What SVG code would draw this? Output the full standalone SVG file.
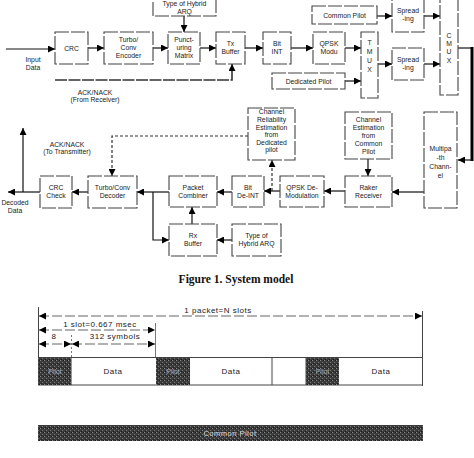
<svg xmlns="http://www.w3.org/2000/svg" width="474" height="458" viewBox="0 0 474 458">
<style>
.b{fill:#fff;stroke:#444;stroke-width:1.1;stroke-dasharray:14 2}
.t{font-family:"Liberation Sans",Arial,sans-serif;font-size:6.8px;fill:#222;text-anchor:middle}
.l{fill:none;stroke:#111;stroke-width:1.2}
.d{fill:none;stroke:#333;stroke-width:1.2;stroke-dasharray:3 2}
.g{fill:none;stroke:#666;stroke-width:1.2;stroke-dasharray:10 3}
.tt{font-family:"Liberation Sans",Arial,sans-serif;font-size:8px;fill:#222;text-anchor:middle;letter-spacing:0.5px}
.pl{font-family:"Liberation Sans",Arial,sans-serif;font-size:7px;fill:#aaa;text-anchor:middle}
</style>
<defs>
<marker id="ah" viewBox="0 0 10 10" refX="10" refY="5" markerWidth="9" markerHeight="7" markerUnits="userSpaceOnUse" orient="auto-start-reverse">
<path d="M0,0L10,5L0,10z" fill="#000"/>
</marker>
<pattern id="nz" width="4" height="4" patternUnits="userSpaceOnUse">
<rect width="4" height="4" fill="#3c3c3c"/>
<rect x="0" y="0" width="1" height="1" fill="#8a8a8a"/>
<rect x="2" y="2" width="1" height="1" fill="#777"/>
<rect x="3" y="0" width="1" height="1" fill="#1a1a1a"/>
<rect x="1" y="3" width="1" height="1" fill="#1a1a1a"/>
</pattern>
</defs>
<rect width="474" height="458" fill="#fff"/>

<g id="connectors">
<line class="l" x1="6" y1="49" x2="55" y2="49" marker-end="url(#ah)"/>
<line class="l" x1="88" y1="48" x2="104" y2="48" marker-end="url(#ah)"/>
<line class="l" x1="153" y1="48" x2="168" y2="48" marker-end="url(#ah)"/>
<line class="l" x1="184" y1="16" x2="184" y2="32" marker-end="url(#ah)"/>
<line class="l" x1="200" y1="48" x2="216" y2="48" marker-end="url(#ah)"/>
<line class="l" x1="245" y1="48" x2="263" y2="48" marker-end="url(#ah)"/>
<line class="l" x1="291" y1="48" x2="313" y2="48" marker-end="url(#ah)"/>
<line class="l" x1="345" y1="48" x2="361" y2="48" marker-end="url(#ah)"/>
<line class="l" x1="345" y1="81" x2="361" y2="81" marker-end="url(#ah)"/>
<line class="l" x1="377" y1="16" x2="392" y2="16" marker-end="url(#ah)"/>
<line class="l" x1="378" y1="64" x2="392" y2="64" marker-end="url(#ah)"/>
<line class="l" x1="424" y1="16" x2="440" y2="16" marker-end="url(#ah)"/>
<line class="l" x1="424" y1="64" x2="440" y2="64" marker-end="url(#ah)"/>
<polyline fill="none" stroke="#333" stroke-width="1.6" stroke-dasharray="12 1.5" points="55,80 232,80 232,64" marker-end="url(#ah)"/>
<polyline class="l" points="458,48 472,48"/>
<line x1="472" y1="47" x2="472" y2="161" stroke="#000" stroke-width="3"/>
<line class="l" x1="472" y1="160" x2="458" y2="160" marker-end="url(#ah)"/>
<line class="l" x1="424" y1="192" x2="392" y2="192" marker-end="url(#ah)"/>
<line class="l" x1="368" y1="159" x2="368" y2="176" marker-end="url(#ah)"/>
<line class="l" x1="345" y1="191" x2="324" y2="191" marker-end="url(#ah)"/>
<line class="l" x1="280" y1="191" x2="264" y2="191" marker-end="url(#ah)"/>
<line class="d" x1="272" y1="191" x2="272" y2="160" marker-end="url(#ah)"/>
<polyline class="d" points="248,136 112,136 112,176" marker-end="url(#ah)"/>
<line class="l" x1="232" y1="192" x2="217" y2="192" marker-end="url(#ah)"/>
<line class="l" x1="169" y1="192" x2="137" y2="192" marker-end="url(#ah)"/>
<polyline class="l" points="153,192 153,240 169,240" marker-end="url(#ah)"/>
<line class="l" x1="192" y1="224" x2="192" y2="207" marker-end="url(#ah)"/>
<line class="l" x1="232" y1="240" x2="217" y2="240" marker-end="url(#ah)"/>
<line class="l" x1="88" y1="192" x2="72" y2="192" marker-end="url(#ah)"/>
<line class="l" x1="40" y1="192" x2="8" y2="192" marker-end="url(#ah)"/>
<line class="l" x1="23" y1="192" x2="23" y2="128" marker-end="url(#ah)"/>
</g>

<g id="crc"><rect class="b" x="55" y="32" width="33" height="32"/><text class="t" x="71.5" y="51">CRC</text></g>
<g id="turbo-enc"><rect class="b" x="104" y="32" width="49" height="32"/><text class="t" x="128.5" y="42">Turbo/</text><text class="t" x="128.5" y="50">Conv</text><text class="t" x="128.5" y="58">Encoder</text></g>
<g id="punct"><rect class="b" x="168" y="32" width="32" height="32"/><text class="t" x="184" y="42">Punct-</text><text class="t" x="184" y="50">uring</text><text class="t" x="184" y="58">Matrix</text></g>
<g id="harq-top"><rect class="b" x="153" y="-2" width="63" height="18"/><text class="t" x="184.5" y="6">Type of Hybrid</text><text class="t" x="184.5" y="14">ARQ</text></g>
<g id="txbuf"><rect class="b" x="216" y="32" width="29" height="32"/><text class="t" x="230.5" y="46">Tx</text><text class="t" x="230.5" y="54">Buffer</text></g>
<g id="bitint"><rect class="b" x="263" y="32" width="28" height="32"/><text class="t" x="277" y="46">Bit</text><text class="t" x="277" y="54">INT</text></g>
<g id="qpskmod"><rect class="b" x="313" y="32" width="32" height="32"/><text class="t" x="329" y="46">QPSK</text><text class="t" x="329" y="54">Modu</text></g>
<g id="tmux"><rect class="b" x="361" y="32" width="17" height="66"/><text class="t" x="369.5" y="45">T</text><text class="t" x="369.5" y="54">M</text><text class="t" x="369.5" y="63">U</text><text class="t" x="369.5" y="72">X</text></g>
<g id="commonpilot"><rect class="b" x="312" y="6" width="65" height="18"/><text class="t" x="344.5" y="18">Common Pilot</text></g>
<g id="dedpilot"><rect class="b" x="272" y="73" width="73" height="16"/><text class="t" x="308.5" y="84">Dedicated Pilot</text></g>
<g id="spread1"><rect class="b" x="392" y="-1" width="32" height="33"/><text class="t" x="408" y="13">Spread</text><text class="t" x="408" y="21">-ing</text></g>
<g id="spread2"><rect class="b" x="392" y="48" width="32" height="32"/><text class="t" x="408" y="62">Spread</text><text class="t" x="408" y="70">-ing</text></g>
<g id="cmux"><rect class="b" x="440" y="-1" width="18" height="96"/><text class="t" x="449" y="38">C</text><text class="t" x="449" y="46">M</text><text class="t" x="449" y="54">U</text><text class="t" x="449" y="63">X</text></g>
<g id="input-label"><text class="t" x="33" y="62">Input</text><text class="t" x="33" y="70">Data</text></g>
<g id="ack-from"><text class="t" x="95" y="95">ACK/NACK</text><text class="t" x="95" y="102">(From Receiver)</text></g>

<g id="multipath"><rect class="b" x="424" y="112" width="33" height="96"/><text class="t" x="440.5" y="151">Multipa</text><text class="t" x="440.5" y="160">-th</text><text class="t" x="440.5" y="169">Chann-</text><text class="t" x="440.5" y="178">el</text></g>
<g id="chest"><rect class="b" x="345" y="112" width="47" height="47"/><text class="t" x="368.5" y="122">Channel</text><text class="t" x="368.5" y="130">Estimation</text><text class="t" x="368.5" y="138">from</text><text class="t" x="368.5" y="146">Common</text><text class="t" x="368.5" y="154">Pilot</text></g>
<g id="raker"><rect class="b" x="345" y="176" width="47" height="31"/><text class="t" x="368.5" y="190">Raker</text><text class="t" x="368.5" y="198">Receiver</text></g>
<g id="qpskdemod"><rect class="b" x="280" y="176" width="44" height="31"/><text class="t" x="302" y="190">QPSK De-</text><text class="t" x="302" y="198">Modulation</text></g>
<g id="chrel"><rect class="b" x="248" y="108" width="47" height="52"/><text class="t" x="271.5" y="114">Channel</text><text class="t" x="271.5" y="122">Reliability</text><text class="t" x="271.5" y="129.5">Estimation</text><text class="t" x="271.5" y="137">from</text><text class="t" x="271.5" y="144.5">Dedicated</text><text class="t" x="271.5" y="152">pilot</text></g>
<g id="bitdeint"><rect class="b" x="232" y="176" width="32" height="31"/><text class="t" x="248" y="190">Bit</text><text class="t" x="248" y="198">De-INT</text></g>
<g id="packetcomb"><rect class="b" x="169" y="176" width="48" height="31"/><text class="t" x="193" y="190">Packet</text><text class="t" x="193" y="198">Combiner</text></g>
<g id="turbodec"><rect class="b" x="88" y="176" width="49" height="32"/><text class="t" x="112.5" y="190">Turbo/Conv</text><text class="t" x="112.5" y="198">Decoder</text></g>
<g id="crccheck"><rect class="b" x="40" y="176" width="32" height="32"/><text class="t" x="56" y="190">CRC</text><text class="t" x="56" y="198">Check</text></g>
<g id="rxbuf"><rect class="b" x="169" y="224" width="48" height="32"/><text class="t" x="193" y="238">Rx</text><text class="t" x="193" y="246">Buffer</text></g>
<g id="harq-bot"><rect class="b" x="232" y="224" width="49" height="32"/><text class="t" x="256.5" y="238">Type of</text><text class="t" x="256.5" y="246">Hybrid ARQ</text></g>
<g id="decoded-label"><text class="t" x="15" y="205">Decoded</text><text class="t" x="15" y="213">Data</text></g>
<g id="ack-to"><text class="t" x="67" y="147">ACK/NACK</text><text class="t" x="67" y="154">(To Transmitter)</text></g>

<text x="236" y="283" font-family="Liberation Serif,Times New Roman,serif" font-size="11.5" font-weight="bold" text-anchor="middle" fill="#111">Figure 1. System model</text>

<g id="timing">
<line x1="38.5" y1="307" x2="38.5" y2="357" stroke="#444" stroke-width="1"/>
<line x1="422.5" y1="311" x2="422.5" y2="386" stroke="#444" stroke-width="1"/>
<line x1="71.5" y1="335" x2="71.5" y2="357" stroke="#555" stroke-width="0.8" stroke-dasharray="2 2"/>
<line x1="155.5" y1="323" x2="155.5" y2="357" stroke="#555" stroke-width="0.8"/>
<text class="tt" x="218" y="313">1 packet=N slots</text>
<line class="g" x1="39" y1="316" x2="422" y2="316" marker-start="url(#ah)" marker-end="url(#ah)"/>
<text class="tt" x="100" y="327">1 slot=0.667 msec</text>
<line class="g" x1="39" y1="330" x2="155" y2="330" marker-start="url(#ah)" marker-end="url(#ah)"/>
<text class="tt" x="54" y="339">8</text>
<text class="tt" x="115" y="339">312 symbols</text>
<line class="g" x1="39" y1="344" x2="71" y2="344" marker-start="url(#ah)" marker-end="url(#ah)"/>
<line class="g" x1="72" y1="344" x2="155" y2="344" marker-start="url(#ah)" marker-end="url(#ah)"/>
<rect x="38.5" y="357.5" width="384" height="27.5" fill="#fff" stroke="#444" stroke-width="1"/>
<rect x="38.5" y="357.5" width="33" height="27.5" fill="url(#nz)"/>
<rect x="156" y="357.5" width="34" height="27.5" fill="url(#nz)"/>
<rect x="306" y="357.5" width="33" height="27.5" fill="url(#nz)"/>
<line x1="272" y1="357.5" x2="272" y2="385" stroke="#444" stroke-width="1"/>
<line x1="306" y1="357.5" x2="306" y2="385" stroke="#444" stroke-width="1"/>
<text class="pl" x="55" y="374">Pilot</text>
<text class="pl" x="173" y="374">Pilot</text>
<text class="pl" x="322.5" y="374">Pilot</text>
<text class="tt" x="113" y="374">Data</text>
<text class="tt" x="231" y="374">Data</text>
<text class="tt" x="381" y="374">Data</text>
<rect x="38" y="425" width="385" height="16" fill="url(#nz)"/>
<text x="230" y="436" font-family="Liberation Sans,Arial,sans-serif" font-size="7.5" fill="#ddd" text-anchor="middle" letter-spacing="0.5">Common Pilot</text>
</g>
</svg>
